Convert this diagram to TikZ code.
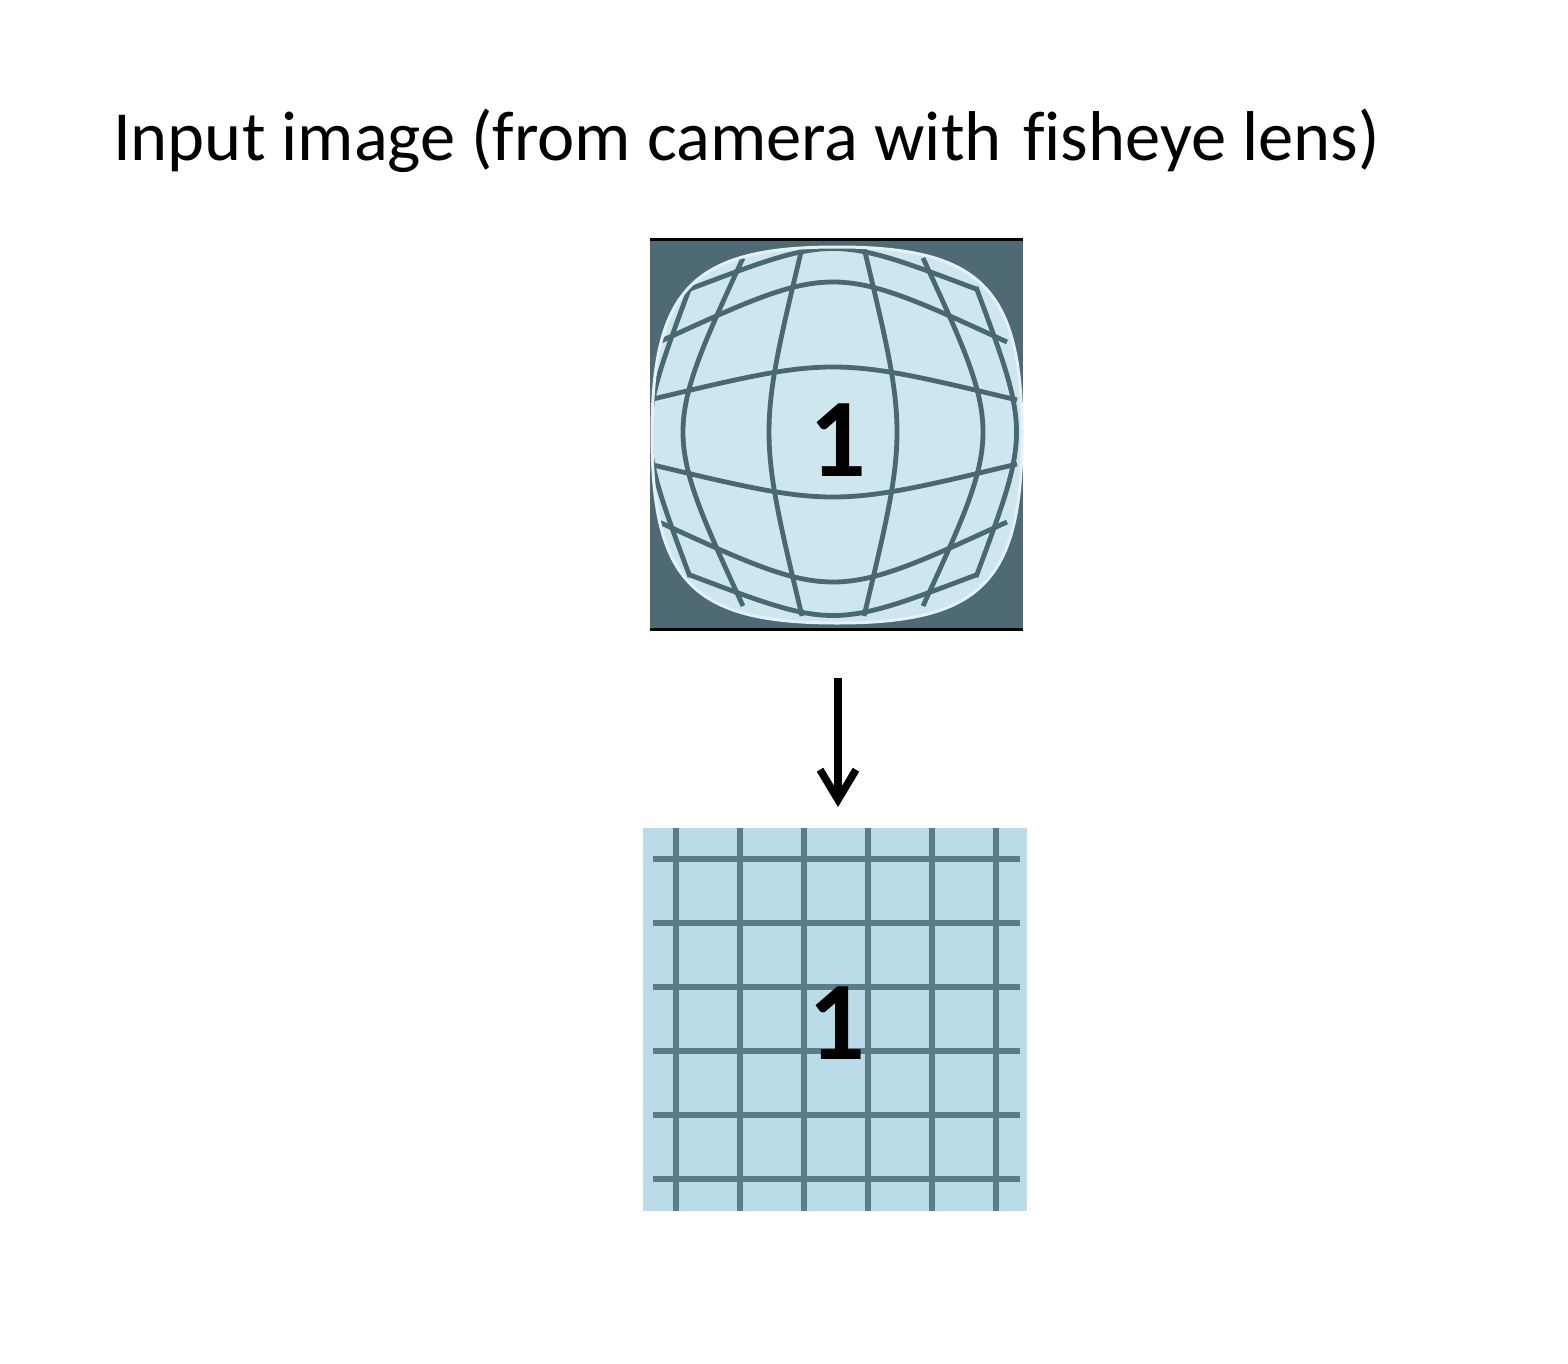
\documentclass[tikz,border=0pt]{standalone}
\usepackage{fontspec}
\setmainfont[Ligatures=CommonOff]{Carlito}
\usetikzlibrary{arrows.meta}
\definecolor{fishbg}{RGB}{78,107,117}
\definecolor{fishfill}{RGB}{206,230,238}
\definecolor{fishrim}{RGB}{228,241,246}
\definecolor{fishline}{RGB}{74,104,114}
\definecolor{gridfill}{RGB}{186,220,233}
\definecolor{gridline}{RGB}{88,126,140}
\tikzset{
  fishbox/.style={rectangle, inner sep=0pt, minimum width=373pt, minimum height=389pt, fill=fishbg},
  gridbox/.style={rectangle, inner sep=0pt, minimum width=384pt, minimum height=383pt, fill=gridfill},
  fline/.style={draw=fishline, line width=4.8pt},
  gline/.style={draw=gridline, line width=5.5pt},
  bigone/.style={inner sep=0pt, font=\fontsize{112}{120}\selectfont\bfseries},
  arrowline/.style={draw=black, line width=7.5pt, -{Straight Barb[length=30pt,width=36pt]}},
  titletext/.style={inner sep=0pt, anchor=base west, font=\fontsize{70.5}{85}\selectfont}
}
\begin{document}
\begin{tikzpicture}[x=1pt,y=-1pt]
\useasboundingbox[fill=white] (0,0) rectangle (1568,1364);

% title
\node[titletext] (title) at (113,161) {Input image (from camera with\hspace{0.08em} fisheye lens)};

% fisheye image
\node[fishbox] (fish) at (836.5,434.5) {};
\draw[black, line width=3pt] (fish.north west) -- (fish.north east);
\draw[black, line width=3pt] (fish.south west) -- (fish.south east);
\def\squircle{(837,247) .. controls (981.3,247) and (1022,288.4) .. (1022,435)
  .. controls (1022,581.6) and (981.3,623) .. (837,623)
  .. controls (692.7,623) and (652,581.6) .. (652,435)
  .. controls (652,288.4) and (692.7,247) .. cycle}
\fill[fishfill] \squircle;
\begin{scope}
  \clip \squircle;
  % vertical curves
  \draw[fline] (802,248) .. controls (758,432) .. (802,616);
  \draw[fline] (864,248) .. controls (908,432) .. (864,616);
  \draw[fline] (743,258) .. controls (663,432) .. (743,606);
  \draw[fline] (923,258) .. controls (1003,432) .. (923,606);
  \draw[fline] (690,287) .. controls (636,432) .. (690,577);
  \draw[fline] (976,287) .. controls (1030,432) .. (976,577);
  % horizontal curves
  \draw[fline] (649,400) .. controls (833,356) .. (1017,400);
  \draw[fline] (649,464) .. controls (833,508) .. (1017,464);
  \draw[fline] (659,342) .. controls (833,262) .. (1007,342);
  \draw[fline] (659,522) .. controls (833,602) .. (1007,522);
  \draw[fline] (690,289) .. controls (833,235) .. (976,289);
  \draw[fline] (690,575) .. controls (833,629) .. (976,575);
\end{scope}
\draw[fishrim, line width=3pt] \squircle;
\node[bigone] (one1) at (838,440) {1};

% arrow
\coordinate (arrS) at (838,678);
\coordinate (arrE) at (838,807);
\draw[arrowline] (arrS) -- (arrE);

% rectified grid
\node[gridbox] (grid) at (835,1019.5) {};
\foreach \x in {676,740,804,868,932,996} {
  \draw[gline] (\x,828) -- (\x,1211);
}
\foreach \y in {859,923,987,1051,1115,1179} {
  \draw[gline] (653,\y) -- (1020,\y);
}
\node[bigone] (one2) at (837,1023) {1};
\end{tikzpicture}
\end{document}
